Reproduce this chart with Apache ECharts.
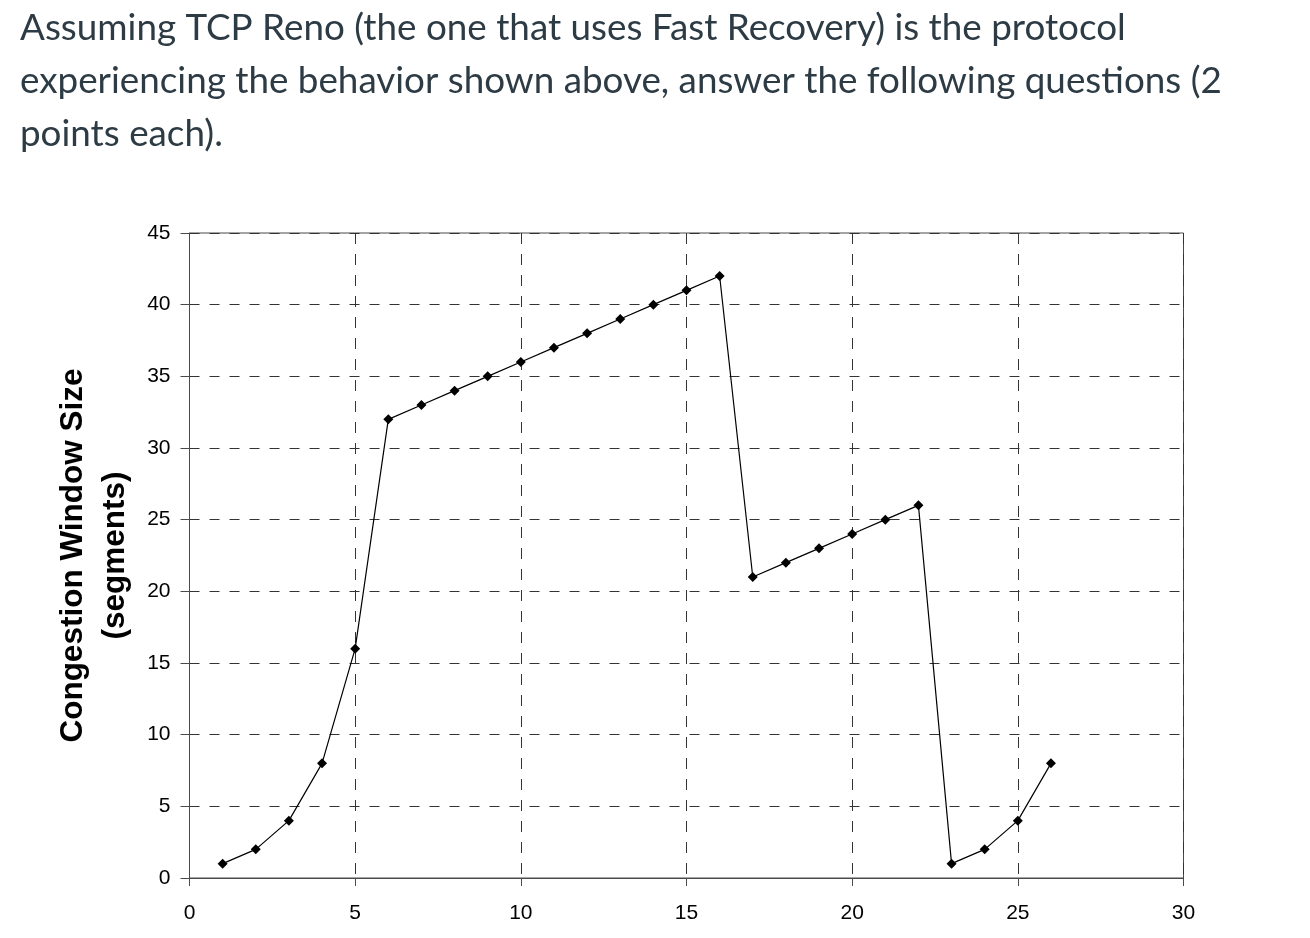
<!DOCTYPE html>
<html>
<head>
<meta charset="utf-8">
<script src="https://cdn.jsdelivr.net/npm/echarts@6/dist/echarts.min.js"></script>
<style>
html,body{margin:0;padding:0;background:#fff;}
#chart{width:1310px;height:938px;}
</style>
</head>
<body>
<div id="chart"></div>
<script>
const headerLines = [
  'Assuming TCP Reno (the one that uses Fast Recovery) is the protocol',
  'experiencing the behavior shown above, answer the following questions (2',
  'points each).'
];
const transmissionRounds = [1,2,3,4,5,6,7,8,9,10,11,12,13,14,15,16,17,18,19,20,21,22,23,24,25,26];
const cwndSegments = [1,2,4,8,16,32,33,34,35,36,37,38,39,40,41,42,21,22,23,24,25,26,1,2,4,8];
const yTitle = 'Congestion Window Size';
const ySubTitle = '(segments)';

const points = transmissionRounds.map((x, i) => [x, cwndSegments[i]]);

const chart = echarts.init(document.getElementById('chart'));
chart.setOption({
  animation: false,
  backgroundColor: '#ffffff',
  graphic: [{
    type: 'text',
    left: 20,
    top: 2,
    style: {
      text: headerLines.join('\n'),
      font: '36.8px Lato',
      lineHeight: 53,
      fill: '#2d3b45'
    }
  }],
  grid: {
    left: 189.5, top: 233, right: 126.5, bottom: 60,
    show: true, borderColor: '#4a4a4a', borderWidth: 1, backgroundColor: 'transparent'
  },
  xAxis: {
    type: 'value', min: 0, max: 30, interval: 5,
    axisLine: { show: true, onZero: false, lineStyle: { color: '#4a4a4a', width: 1 } },
    axisTick: { show: true, inside: false, length: 8, lineStyle: { color: '#4a4a4a' } },
    axisLabel: { margin: 25, fontFamily: 'Liberation Sans', fontSize: 21, color: '#000' },
    splitLine: { show: true, lineStyle: { color: '#333333', type: [11, 10], width: 1 } }
  },
  yAxis: {
    type: 'value', min: 0, max: 45, interval: 5,
    name: yTitle + '\n' + ySubTitle,
    nameLocation: 'middle',
    nameRotate: 90,
    nameGap: 51,
    nameTextStyle: { fontFamily: 'Liberation Sans', fontWeight: 'bold', fontSize: 31.5, lineHeight: 42, color: '#000', align: 'center' },
    axisLine: { show: true, onZero: false, lineStyle: { color: '#4a4a4a', width: 1 } },
    axisTick: { show: true, inside: false, length: 9, lineStyle: { color: '#4a4a4a' } },
    axisLabel: { margin: 19, fontFamily: 'Liberation Sans', fontSize: 21, color: '#000' },
    splitLine: { show: true, lineStyle: { color: '#333333', type: [10, 10], width: 1 } }
  },
  series: [{
    type: 'line',
    data: points,
    symbol: 'diamond',
    symbolSize: 10,
    lineStyle: { color: '#000', width: 1.2 },
    itemStyle: { color: '#000' },
    z: 5
  }]
});
</script>
</body>
</html>
